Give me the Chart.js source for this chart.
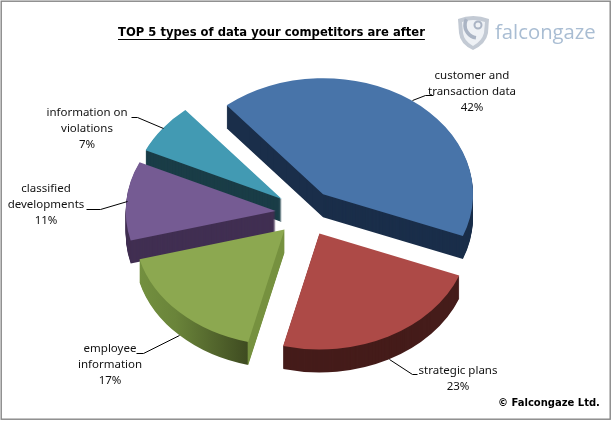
<!DOCTYPE html>
<html><head><meta charset="utf-8">
<style>html,body{margin:0;padding:0;background:#fff}canvas{display:block}</style>
<script src="https://cdn.jsdelivr.net/npm/chart.js@4/dist/chart.umd.min.js"></script>
</head><body>
<canvas id="c" width="612" height="421"></canvas>
<script>
const categories = ['customer and transaction data','strategic plans','employee information','classified developments','information on violations'];
const shares = [42,23,17,11,7];
const labelLines = [['customer and','transaction data','42%'],['strategic plans','23%'],['employee','information','17%'],['classified','developments','11%'],['information on','violations','7%']];
const topColors = ['#4874a9','#ad4a47','#8ca850','#755b93','#429ab3'];
const wallColors = ['#1a2e4a','#451c1a',null,'#412f52','#1a3d47'];
const titleText = 'TOP 5 types of data your competitors are after';
const creditText = '\u00A9 Falcongaze Ltd.';
const logoText = 'falcongaze';

const squash = 0.773, depth = 23, explode = 30;
const drawOrder = [0,4,3,2,1];
const labelPos = [[472,76],[458,371],[110,349],[46,189],[87,113]];
const leaders = [
  [[412,100],[425,95],[433,95]],
  [[389,359],[412,374],[417,374]],
  [[179,335],[143,353],[136,353]],
  [[127,201],[100,209],[86,209]],
  [[163,128],[137,117],[131,117]]
];
const LABEL_FONT = '11.5px "Noto Sans"';

const pie3d = {
  id:'pie3d',
  beforeDatasetsDraw(chart){
    const ctx = chart.ctx, arcs = chart.getDatasetMeta(0).data;
    const paint = (arc, dy, fill) => {
      const mid = (arc.startAngle + arc.endAngle)/2;
      const ox = Math.cos(mid)*explode, oy = Math.sin(mid)*explode;
      ctx.save();
      ctx.translate(arc.x, arc.y+dy);
      ctx.scale(1, squash);
      ctx.translate(-arc.x, -arc.y);
      ctx.translate(ox, oy);
      const saved = arc.options;
      let f = fill;
      if (fill === null) {
        const a = 139-ox, b = 286-ox, g = ctx.createLinearGradient(a,0,b,0);
        const cut = (248-139)/(286-139);
        g.addColorStop(0,'#73903f'); g.addColorStop(.25,'#6a843a');
        g.addColorStop(cut-.005,'#3f4c21'); g.addColorStop(cut,'#76913f'); g.addColorStop(1,'#76913f');
        f = g;
      }
      arc.options = Object.assign({}, saved, {backgroundColor:f, borderWidth:0, offset:0, spacing:0});
      arc.draw(ctx);
      arc.options = saved;
      ctx.restore();
    };
    drawOrder.forEach(i => {
      for (let d=depth; d>=1; d--) paint(arcs[i], d, wallColors[i]);
      paint(arcs[i], 0, topColors[i]);
    });
    return false;
  },
  afterDraw(chart){
    const ctx = chart.ctx;
    ctx.save();
    // frame
    ctx.strokeStyle = '#868686'; ctx.lineWidth = 1.4;
    ctx.strokeRect(1.2,1.2,609,418);
    // title
    ctx.fillStyle = '#000'; ctx.textBaseline='middle'; ctx.textAlign='left';
    ctx.font = 'bold 11.6px "DejaVu Sans"';
    ctx.fillText(titleText,118,33);
    const tw = ctx.measureText(titleText).width;
    ctx.fillRect(118,39,tw,1);
    // credit
    ctx.font = 'bold 10px "DejaVu Sans"';
    ctx.fillText(creditText,498,403);
    // logo shield
    ctx.beginPath();
    ctx.moveTo(458,19); ctx.quadraticCurveTo(473,13,489,19); ctx.lineTo(488,33);
    ctx.quadraticCurveTo(486,44,473,50); ctx.quadraticCurveTo(460,44,459,33); ctx.closePath();
    ctx.fillStyle='#c3cad4'; ctx.fill();
    ctx.beginPath();
    ctx.moveTo(462,22); ctx.quadraticCurveTo(473,18,485,22); ctx.lineTo(484,33);
    ctx.quadraticCurveTo(482,41,473,46); ctx.quadraticCurveTo(464,41,463,33); ctx.closePath();
    ctx.fillStyle='#eef1f5'; ctx.fill();
    ctx.beginPath(); ctx.arc(478,25,13,Math.PI*.55,Math.PI*1.15); ctx.strokeStyle='#aab4c4'; ctx.lineWidth=3.5; ctx.stroke();
    ctx.beginPath(); ctx.arc(478,25,3.5,0,Math.PI*2); ctx.strokeStyle='#aab4c4'; ctx.lineWidth=2; ctx.stroke();
    ctx.font='20.3px "Open Sans"'; ctx.fillStyle='#a9bdd3'; ctx.textAlign='left';
    ctx.fillText(logoText,495,33);
    // leaders
    ctx.strokeStyle='#000'; ctx.lineWidth=1;
    leaders.forEach(l=>{ctx.beginPath();l.forEach((p,i)=>i?ctx.lineTo(p[0]+.5,p[1]+.5):ctx.moveTo(p[0]+.5,p[1]+.5));ctx.stroke();});
    // labels
    ctx.font=LABEL_FONT; ctx.fillStyle='#111'; ctx.textAlign='center';
    labelLines.forEach((ls,i)=>ls.forEach((t,j)=>ctx.fillText(t,labelPos[i][0],labelPos[i][1]+j*16)));
    ctx.restore();
  }
};

new Chart(document.getElementById('c'),{
  type:'pie',
  data:{labels:categories,datasets:[{data:shares,backgroundColor:topColors,borderWidth:0}]},
  options:{
    responsive:false,animation:false,devicePixelRatio:1,rotation:-40,
    layout:{padding:{left:155.6,right:156.4,top:63,bottom:58}},
    events:[],
    plugins:{legend:{display:false},tooltip:{enabled:false},title:{display:false}}
  },
  plugins:[pie3d]
});
</script>
</body></html>
